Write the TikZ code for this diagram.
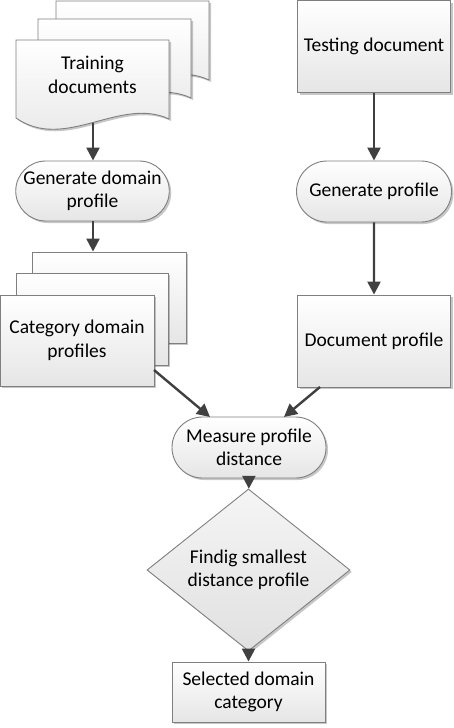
\documentclass[tikz,border=0pt]{standalone}
\usepackage{fontspec}
\setmainfont{Carlito}
\usetikzlibrary{shapes.geometric,shapes.misc,shadows,arrows.meta}
\definecolor{bord}{HTML}{7F7F7F}
\definecolor{arr}{HTML}{404040}
\tikzset{
  fillgrad/.style={top color=white, bottom color=black!10, draw=bord, line width=0.9pt,
    drop shadow={shadow xshift=2pt, shadow yshift=-2pt, opacity=0.22, fill=black}},
  box/.style={fillgrad, rectangle, inner sep=0pt, align=center,
    font=\fontsize{19.5}{23.5}\selectfont},
  term/.style={box, rounded rectangle},
  decision/.style={box, diamond, inner sep=0pt, top color=black!4, bottom color=black!12},
  flow/.style={draw=arr, line width=2.4pt, -{Triangle[length=13pt,width=13pt]}},
  txt/.style={align=center, font=\fontsize{19.5}{23.5}\selectfont}
}
\newcommand{\docpage}[2]{%
  \draw[fillgrad, shift={(#1,#2)}] (0,0) -- (153,0) -- (153,79)
    .. controls (104,56) and (49,112) .. (0,78) -- cycle;}
\begin{document}
\begin{tikzpicture}[x=1pt,y=-1pt]
\useasboundingbox (0,0) rectangle (454,728);
% training documents stack
\docpage{56}{1}
\docpage{38}{19}
\docpage{16}{40}
\node[txt] (train) at (92.5,75) {Training\\documents};
\coordinate (trainbot) at (93,123);
% generate domain profile
\node[term, minimum width=151pt, minimum height=60pt] (gdp) at (92.5,191) {Generate domain\\profile};
% category domain profiles stack
\node[box, minimum width=154pt, minimum height=91pt] (catback) at (109,297.5) {};
\node[box, minimum width=152pt, minimum height=92pt] (catmid) at (92,319) {};
\node[box, minimum width=154pt, minimum height=91pt] (cat) at (77,340.5) {Category domain\\profiles};
% right column
\node[box, minimum width=153pt, minimum height=92pt] (test) at (374,46.5) {Testing document};
\node[term, minimum width=155pt, minimum height=61pt] (gp) at (374,191.5) {Generate profile};
\node[box, minimum width=153pt, minimum height=92pt] (dp) at (374,341) {Document profile};
% lower part
\node[term, minimum width=154pt, minimum height=61pt] (mpd) at (249,447.5) {Measure profile\\distance};
\node[decision, minimum width=203pt, minimum height=119pt] (find) at (248.5,570) {Findig smallest\\distance profile};
\node[box, minimum width=153pt, minimum height=60pt] (sel) at (248.5,692) {Selected domain\\category};
% connectors
\draw[flow] (trainbot) -- (gdp.north -| trainbot);
\draw[flow] (gdp.south -| trainbot) -- (catback.north -| trainbot);
\draw[flow] (test) -- (gp);
\draw[flow] (gp) -- (dp);
\coordinate (catout) at (154,370);
\coordinate (dpout) at (320,387);
\draw[flow] (catout) -- (210,417);
\draw[flow] (dpout) -- (284,417);
\draw[flow] (mpd) -- (find);
\draw[flow] (find) -- (sel);
\end{tikzpicture}
\end{document}
